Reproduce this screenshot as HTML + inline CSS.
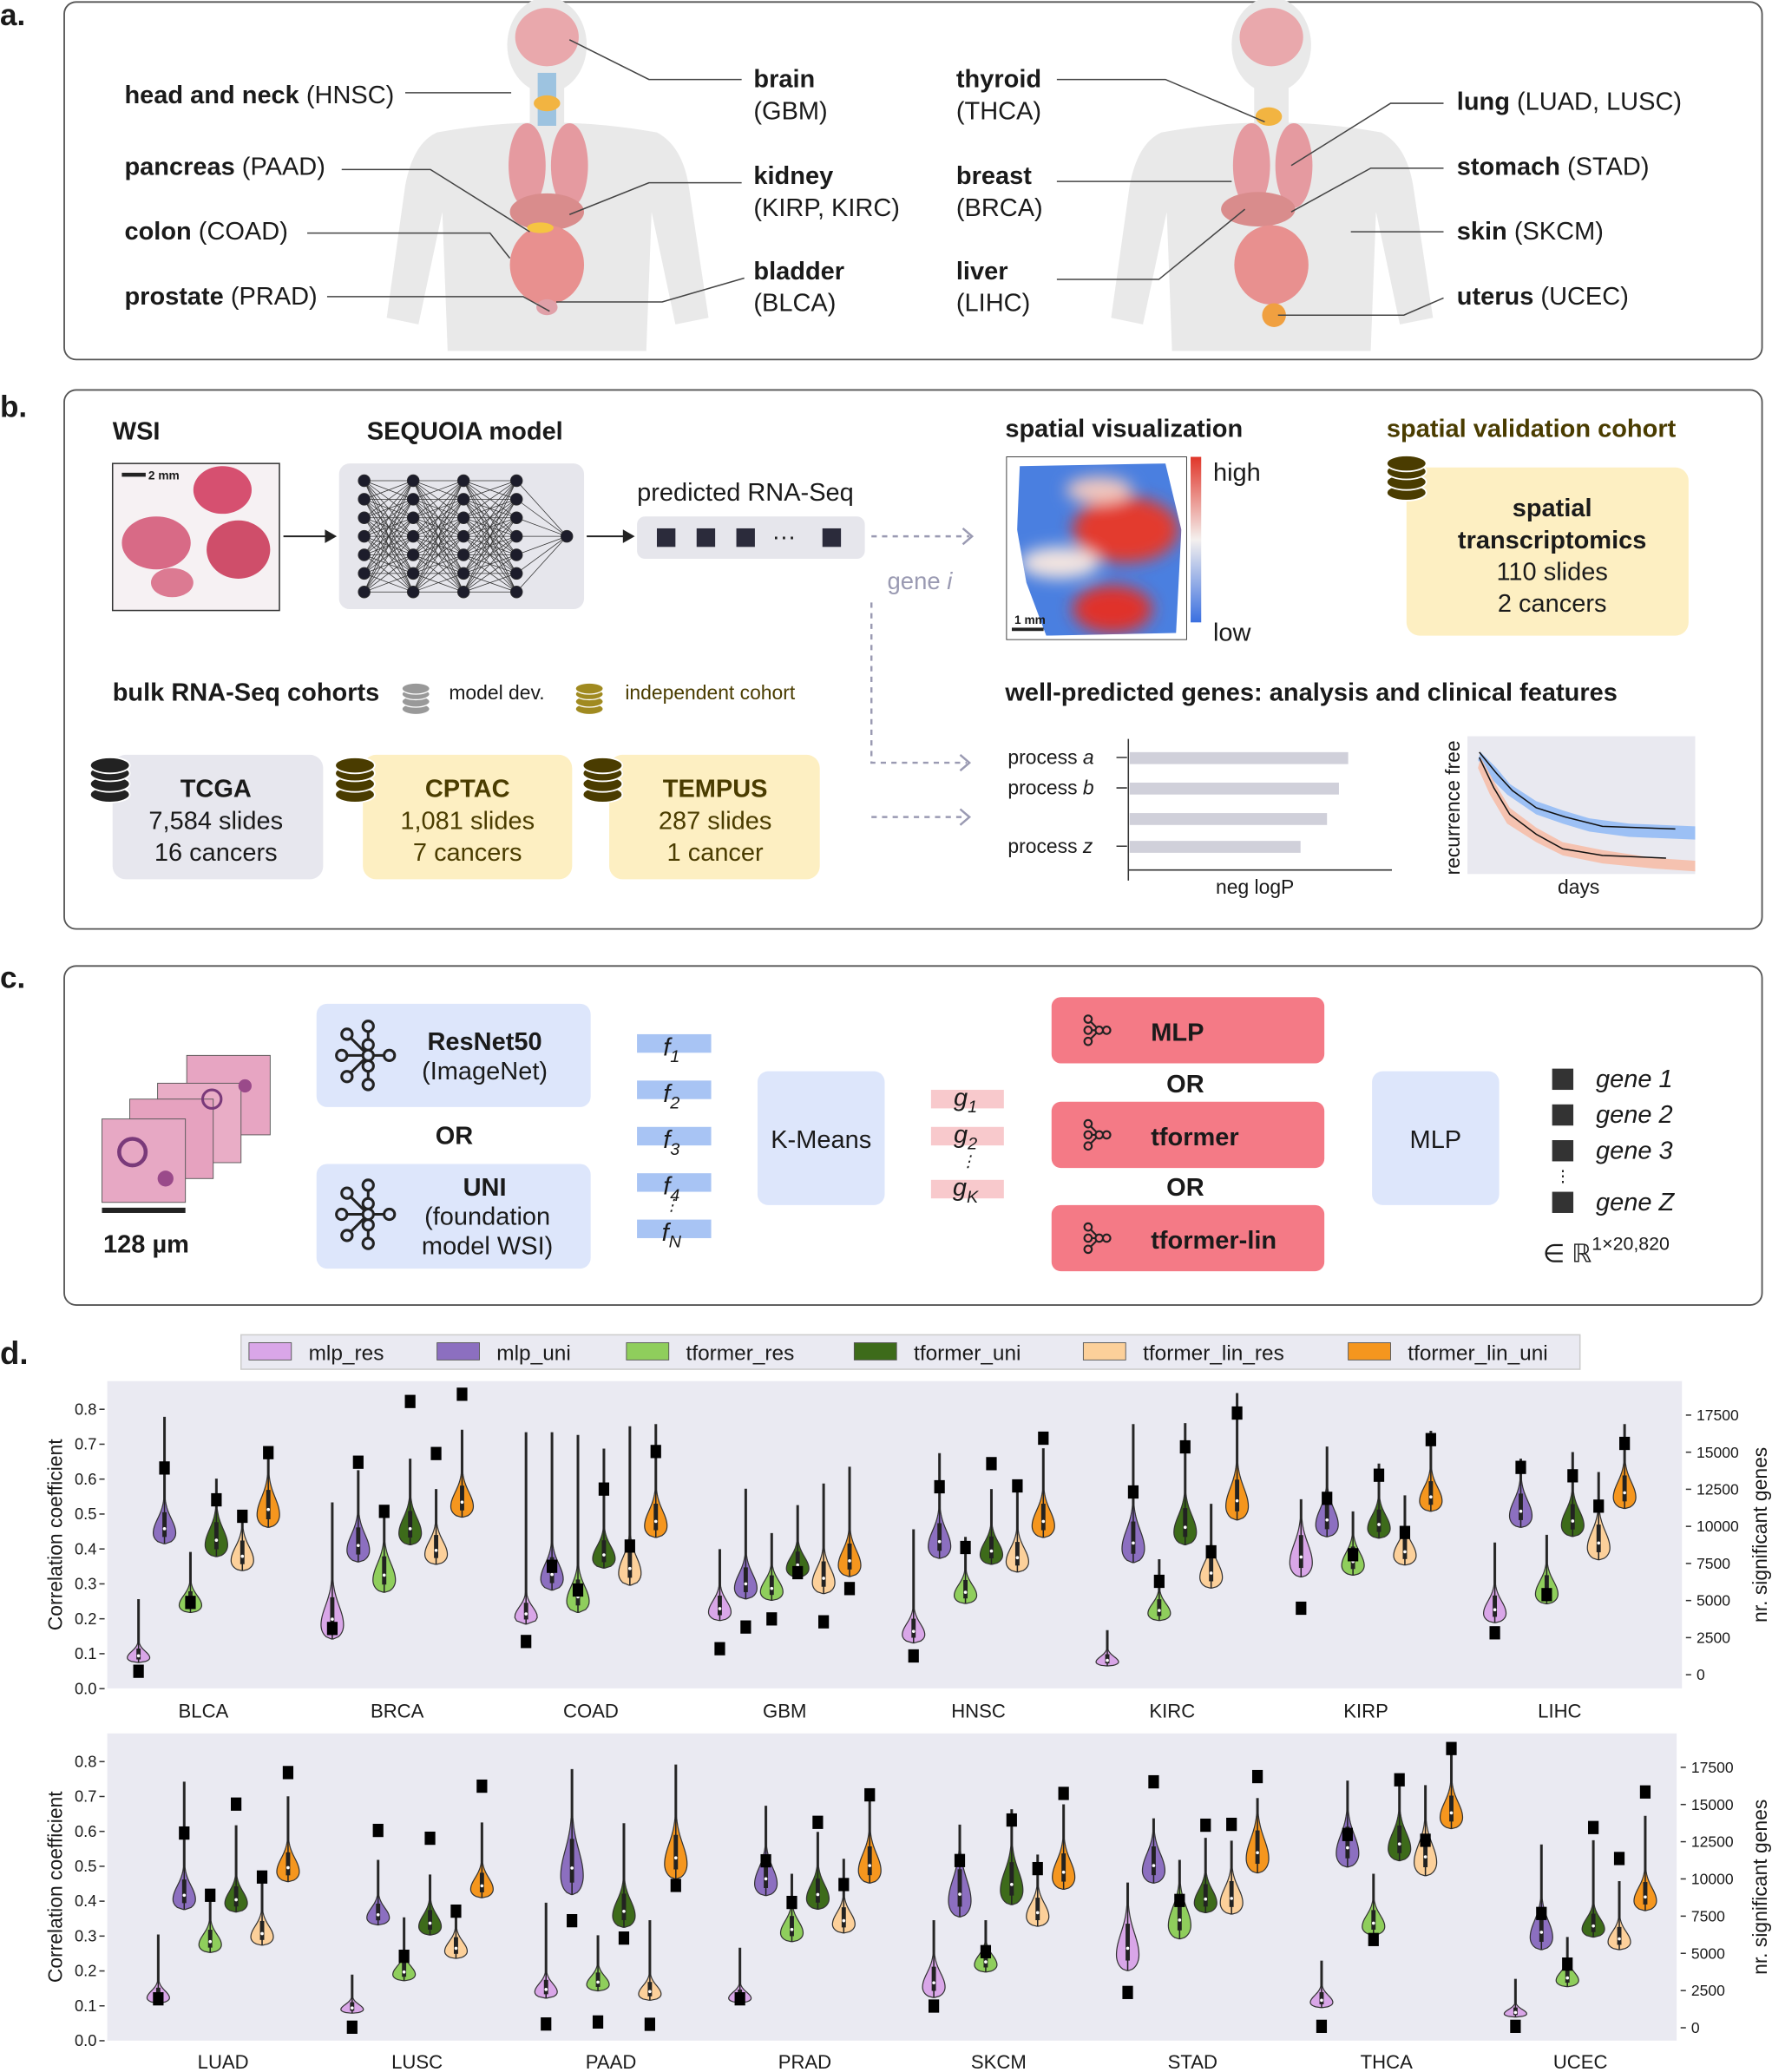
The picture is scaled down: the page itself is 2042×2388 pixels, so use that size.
<!DOCTYPE html>
<html><head><meta charset="utf-8"><style>
html,body{margin:0;padding:0;background:#fff}
svg{display:block}
text{font-family:"Liberation Sans",sans-serif;fill:#1a1a1a}
.b{font-weight:bold}
</style></head><body>
<svg id="fig" xmlns="http://www.w3.org/2000/svg" width="2042" height="2388" viewBox="0 0 1338 1564.7">
<defs>
<linearGradient id="cbar" x1="0" y1="0" x2="0" y2="1"><stop offset="0" stop-color="#e0362a"/><stop offset="0.5" stop-color="#f4f0ee"/><stop offset="1" stop-color="#3a6fe0"/></linearGradient>
<filter id="blur"><feGaussianBlur stdDeviation="6"/></filter>
<clipPath id="hmclip"><path d="M770 352 L880 350 L892 400 L888 478 L790 480 L775 440 L768 400 Z"/></clipPath>
</defs>

<!-- Panel a -->
<g>
<text x="0" y="19" font-size="23" class="b">a.</text>
<rect x="48.5" y="1.5" width="1282" height="270" rx="9" fill="none" stroke="#555" stroke-width="1.2"/>
<g fill="#e9e9e9">
<ellipse cx="413" cy="34" rx="30" ry="36"/>
<rect x="400" y="65" width="26" height="30"/>
<path d="M330 100 Q413 85 496 100 Q515 110 520 140 L535 240 L510 245 L492 160 L488 265 L338 265 L334 160 L316 245 L292 240 L306 140 Q312 108 330 100Z"/>
</g>
<g>
<ellipse cx="413" cy="28" rx="24" ry="22" fill="#e9a8ac"/>
<rect x="406" y="55" width="14" height="40" fill="#9dc3e0"/>
<ellipse cx="413" cy="78" rx="10" ry="6" fill="#f2b441"/>
<ellipse cx="398" cy="125" rx="14" ry="32" fill="#e59aa0"/>
<ellipse cx="430" cy="125" rx="14" ry="32" fill="#e59aa0"/>
<ellipse cx="413" cy="160" rx="28" ry="14" fill="#d98c8c"/>
<ellipse cx="413" cy="200" rx="28" ry="30" fill="#e8908f"/>
<ellipse cx="408" cy="172" rx="10" ry="4" fill="#f5c442"/>
<ellipse cx="413" cy="232" rx="8" ry="6" fill="#e0a0a8"/>
</g>
<g fill="#e9e9e9">
<ellipse cx="960" cy="34" rx="30" ry="36"/>
<rect x="947" y="65" width="26" height="30"/>
<path d="M877 100 Q960 85 1043 100 Q1062 110 1067 140 L1082 240 L1057 245 L1039 160 L1035 265 L885 265 L881 160 L863 245 L839 240 L853 140 Q859 108 877 100Z"/>
</g>
<g>
<ellipse cx="960" cy="28" rx="24" ry="22" fill="#e9a8ac"/>
<ellipse cx="958" cy="88" rx="10" ry="7" fill="#f2b441"/>
<ellipse cx="945" cy="125" rx="14" ry="32" fill="#e59aa0"/>
<ellipse cx="977" cy="125" rx="14" ry="32" fill="#e59aa0"/>
<ellipse cx="950" cy="158" rx="28" ry="13" fill="#d98c8c"/>
<ellipse cx="960" cy="200" rx="28" ry="30" fill="#e8908f"/>
<ellipse cx="962" cy="238" rx="9" ry="9" fill="#f0a040"/>
</g>
<g stroke="#444" stroke-width="1" fill="none">
<path d="M306 70 H386"/><path d="M258 128 H325 L400 175"/><path d="M232 176 H370 L385 195"/><path d="M247 224 H395 L415 235"/>
<path d="M560 60 H490 L430 30"/><path d="M560 138 H490 L430 162"/><path d="M562 210 L500 228 H420"/>
<path d="M798 60 H880 L955 92"/><path d="M798 137 H930"/><path d="M798 211 H875 L940 158"/>
<path d="M1090 78 H1050 L975 125"/><path d="M1090 127 H1035 L975 160"/><path d="M1090 175 H1020"/><path d="M1090 225 L1060 238 H965"/>
</g>
<g font-size="19">
<text x="94" y="78"><tspan class="b">head and neck</tspan> (HNSC)</text>
<text x="94" y="132"><tspan class="b">pancreas</tspan> (PAAD)</text>
<text x="94" y="181"><tspan class="b">colon</tspan> (COAD)</text>
<text x="94" y="230"><tspan class="b">prostate</tspan> (PRAD)</text>
<text x="569" y="66" class="b">brain</text><text x="569" y="90">(GBM)</text>
<text x="569" y="139" class="b">kidney</text><text x="569" y="163">(KIRP, KIRC)</text>
<text x="569" y="211" class="b">bladder</text><text x="569" y="235">(BLCA)</text>
<text x="722" y="66" class="b">thyroid</text><text x="722" y="90">(THCA)</text>
<text x="722" y="139" class="b">breast</text><text x="722" y="163">(BRCA)</text>
<text x="722" y="211" class="b">liver</text><text x="722" y="235">(LIHC)</text>
<text x="1100" y="83"><tspan class="b">lung</tspan> (LUAD, LUSC)</text>
<text x="1100" y="132"><tspan class="b">stomach</tspan> (STAD)</text>
<text x="1100" y="181"><tspan class="b">skin</tspan> (SKCM)</text>
<text x="1100" y="230"><tspan class="b">uterus</tspan> (UCEC)</text>
</g>
</g>

<!-- Panel b -->
<g>
<text x="0" y="315" font-size="23" class="b">b.</text>
<rect x="48.5" y="294.5" width="1282" height="407" rx="9" fill="none" stroke="#555" stroke-width="1.2"/>
<text x="85" y="332" font-size="19" class="b">WSI</text>
<text x="277" y="332" font-size="19" class="b">SEQUOIA model</text>
<g>
<rect x="85" y="350" width="126" height="111" fill="#f6f1f3" stroke="#333"/>
<ellipse cx="118" cy="410" rx="26" ry="20" fill="#d86a86"/>
<ellipse cx="168" cy="370" rx="22" ry="18" fill="#d65070"/>
<ellipse cx="180" cy="415" rx="24" ry="22" fill="#cf4e6a"/>
<ellipse cx="130" cy="440" rx="16" ry="11" fill="#dc7a92"/>
<rect x="92" y="357" width="18" height="3" fill="#222"/><text x="112" y="362" font-size="9" class="b">2 mm</text>
</g>
<g>
<rect x="256" y="350" width="185" height="110" rx="8" fill="#e6e6ec"/>
<g id="nn" stroke="#333" stroke-width="0.5"></g>
</g>
<g stroke="#222" stroke-width="1.3" fill="#222">
<path d="M214 405 H248" /><path d="M253 405 l-7 -4 v8z"/>
<path d="M443 405 H472"/><path d="M478 405 l-7 -4 v8z"/>
</g>
<text x="481" y="378" font-size="19">predicted RNA-Seq</text>
<g>
<rect x="481" y="390" width="172" height="32" rx="6" fill="#e6e6ec"/>
<rect x="496" y="399" width="14" height="14" fill="#2b2b3b"/><rect x="526" y="399" width="14" height="14" fill="#2b2b3b"/><rect x="556" y="399" width="14" height="14" fill="#2b2b3b"/>
<text x="583" y="411" font-size="18">···</text><rect x="621" y="399" width="14" height="14" fill="#2b2b3b"/>
</g>
<g stroke="#9a9ab2" stroke-width="1.6" stroke-dasharray="4 4" fill="none">
<path d="M658 405 H732"/><path d="M658 455 V576 H730"/><path d="M658 617 H730"/>
</g>
<g fill="none" stroke="#9a9ab2" stroke-width="1.6"><path d="M727 399 l7 6 l-7 6"/><path d="M725 570 l7 6 l-7 6"/><path d="M725 611 l7 6 l-7 6"/></g>
<text x="670" y="445" font-size="18" style="fill:#9a9ab2">gene <tspan font-style="italic">i</tspan></text>
<text x="759" y="330" font-size="19" class="b">spatial visualization</text>
<g>
<rect x="760" y="345" width="136" height="138" fill="#fff" stroke="#333" stroke-width="0.6"/>
<g clip-path="url(#hmclip)"><rect x="760" y="345" width="136" height="138" fill="#4a7fe0"/>
<g filter="url(#blur)"><ellipse cx="850" cy="400" rx="40" ry="25" fill="#e33a2e"/><ellipse cx="840" cy="460" rx="30" ry="18" fill="#e0302a"/><ellipse cx="800" cy="425" rx="30" ry="12" fill="#f2e4e0"/><ellipse cx="830" cy="370" rx="25" ry="10" fill="#f0c8c0"/></g></g>
<rect x="764" y="474" width="24" height="2.5" fill="#222"/><text x="766" y="471" font-size="9" class="b">1 mm</text>
</g>
<rect x="899" y="345" width="8" height="125" fill="url(#cbar)"/>
<text x="916" y="363" font-size="19">high</text>
<text x="916" y="484" font-size="19">low</text>
<text x="1047" y="330" font-size="19" class="b" style="fill:#4a3c00">spatial validation cohort</text>
<g>
<rect x="1062" y="353" width="213" height="127" rx="10" fill="#fdefc2"/>
<g text-anchor="middle" font-size="19"><text x="1172" y="390" class="b">spatial</text><text x="1172" y="414" class="b">transcriptomics</text><text x="1172" y="438">110 slides</text><text x="1172" y="462">2 cancers</text></g>
</g>
<text x="85" y="529" font-size="19" class="b">bulk RNA-Seq cohorts</text>
<text x="339" y="528" font-size="15">model dev.</text>
<text x="472" y="528" font-size="15" style="fill:#4a3c00">independent cohort</text>
<g><rect x="85" y="570" width="159" height="94" rx="10" fill="#e7e7ee"/>
<g text-anchor="middle" font-size="19"><text x="163" y="602" class="b">TCGA</text><text x="163" y="626">7,584 slides</text><text x="163" y="650">16 cancers</text></g></g>
<g><rect x="274" y="570" width="158" height="94" rx="10" fill="#fdefc2"/>
<g text-anchor="middle" font-size="19"><text x="353" y="602" class="b" style="fill:#4a3c00">CPTAC</text><text x="353" y="626" style="fill:#4a3c00">1,081 slides</text><text x="353" y="650" style="fill:#4a3c00">7 cancers</text></g></g>
<g><rect x="460" y="570" width="159" height="94" rx="10" fill="#fdefc2"/>
<g text-anchor="middle" font-size="19"><text x="540" y="602" class="b" style="fill:#4a3c00">TEMPUS</text><text x="540" y="626" style="fill:#4a3c00">287 slides</text><text x="540" y="650" style="fill:#4a3c00">1 cancer</text></g></g>
<g id="dbicons"></g>
<text x="759" y="529" font-size="19" class="b">well-predicted genes: analysis and clinical features</text>
<g>
<path d="M852 558 V665 M852 657 H1051" stroke="#333" fill="none"/>
<g fill="#d0d0da"><rect x="853" y="568" width="165" height="9"/><rect x="853" y="591" width="158" height="9"/><rect x="853" y="614" width="149" height="9"/><rect x="853" y="635" width="129" height="9"/></g>
<path d="M843 572 H851 M843 595 H851 M843 639 H851" stroke="#333"/>
<g font-size="15"><text x="761" y="577">process <tspan font-style="italic">a</tspan></text><text x="761" y="600">process <tspan font-style="italic">b</tspan></text><text x="761" y="644">process <tspan font-style="italic">z</tspan></text><text x="918" y="675">neg logP</text></g>
</g>
<g>
<rect x="1108" y="556" width="172" height="104" fill="#e9e9f0"/>
<path d="M1118 568 L1130 580 L1140 592 L1160 605 L1180 612 L1200 618 L1230 622 L1280 624 L1280 634 L1230 632 L1200 628 L1180 622 L1160 615 L1138 600 L1126 588 L1116 574Z" fill="#9cc0f5"/>
<path d="M1118 572 L1128 590 L1140 610 L1160 625 L1180 636 L1210 642 L1250 648 L1280 650 L1280 658 L1250 656 L1210 652 L1180 646 L1160 636 L1138 622 L1125 600 L1116 580Z" fill="#f5c2b0"/>
<path d="M1117 568 L1130 584 L1142 597 L1160 610 L1182 617 L1210 624 L1265 626" stroke="#111" fill="none"/>
<path d="M1117 572 L1128 595 L1140 615 L1160 630 L1180 641 L1210 646 L1258 648" stroke="#111" fill="none"/>
<text x="1102" y="610" font-size="15" transform="rotate(-90 1102 610)" text-anchor="middle">recurrence free</text>
<text x="1192" y="675" font-size="15" text-anchor="middle">days</text>
</g>
</g>

<!-- Panel c -->
<g>
<text x="0" y="746" font-size="23" class="b">c.</text>
<rect x="48.5" y="729.5" width="1282" height="256" rx="9" fill="none" stroke="#555" stroke-width="1.2"/>
<g>
<rect x="141" y="797" width="63" height="60" fill="#e7a5c2" stroke="#555" stroke-width="0.6"/>
<rect x="119" y="818" width="63" height="60" fill="#e9adc6" stroke="#555" stroke-width="0.6"/>
<rect x="98" y="830" width="63" height="60" fill="#e6a2bf" stroke="#555" stroke-width="0.6"/>
<rect x="77" y="845" width="63" height="63" fill="#e7a8c4" stroke="#555" stroke-width="0.6"/>
<circle cx="100" cy="870" r="10" fill="none" stroke="#7a3a7a" stroke-width="3"/><circle cx="125" cy="890" r="6" fill="#9a4a8a"/><circle cx="160" cy="830" r="7" fill="none" stroke="#7a3a7a" stroke-width="2"/><circle cx="185" cy="820" r="5" fill="#9a4a8a"/>
<rect x="77" y="912" width="63" height="4" fill="#222"/>
<text x="78" y="946" font-size="19" class="b">128 µm</text>
</g>
<g><rect x="239" y="758" width="207" height="78" rx="8" fill="#dde6fb"/>
<g text-anchor="middle" font-size="19"><text x="366" y="793" class="b">ResNet50</text><text x="366" y="815">(ImageNet)</text></g></g>
<text x="343" y="864" font-size="19" class="b" text-anchor="middle">OR</text>
<g><rect x="239" y="879" width="207" height="79" rx="8" fill="#dde6fb"/>
<g text-anchor="middle" font-size="19"><text x="366" y="903" class="b">UNI</text><text x="368" y="925">(foundation</text><text x="368" y="947">model WSI)</text></g></g>
<g>
<g fill="#a8c4f4"><rect x="481" y="781" width="56" height="14"/><rect x="481" y="816" width="56" height="14"/><rect x="481" y="851" width="56" height="14"/><rect x="481" y="886" width="56" height="14"/><rect x="481" y="921" width="56" height="14"/></g>
<g font-size="19" font-style="italic" text-anchor="middle"><text x="507" y="797">f<tspan font-size="13" dy="5">1</tspan></text><text x="507" y="832">f<tspan font-size="13" dy="5">2</tspan></text><text x="507" y="867">f<tspan font-size="13" dy="5">3</tspan></text><text x="507" y="902">f<tspan font-size="13" dy="5">4</tspan></text><text x="507" y="914" font-size="12">⋮</text><text x="507" y="937">f<tspan font-size="13" dy="5">N</tspan></text></g>
</g>
<g><rect x="572" y="809" width="96" height="101" rx="8" fill="#dde6fb"/><text x="620" y="867" font-size="19" text-anchor="middle">K-Means</text></g>
<g>
<g fill="#f8c9cc"><rect x="703" y="823" width="55" height="14"/><rect x="703" y="851" width="55" height="14"/><rect x="703" y="891" width="55" height="14"/></g>
<g font-size="19" font-style="italic" text-anchor="middle"><text x="729" y="835">g<tspan font-size="13" dy="5">1</tspan></text><text x="729" y="863">g<tspan font-size="13" dy="5">2</tspan></text><text x="731" y="881" font-size="12">⋮</text><text x="729" y="903">g<tspan font-size="13" dy="5">K</tspan></text></g>
</g>
<g>
<rect x="794" y="753" width="206" height="50" rx="7" fill="#f47a86"/><rect x="794" y="832" width="206" height="50" rx="7" fill="#f47a86"/><rect x="794" y="910" width="206" height="50" rx="7" fill="#f47a86"/>
<g font-size="19" class="b"><text x="869" y="786">MLP</text><text x="869" y="865">tformer</text><text x="869" y="943">tformer-lin</text><text x="895" y="825" text-anchor="middle">OR</text><text x="895" y="903" text-anchor="middle">OR</text></g>
</g>
<g><rect x="1036" y="809" width="96" height="101" rx="8" fill="#dde6fb"/><text x="1084" y="867" font-size="19" text-anchor="middle">MLP</text></g>
<g>
<g fill="#333"><rect x="1172" y="807" width="16" height="16"/><rect x="1172" y="834" width="16" height="16"/><rect x="1172" y="861" width="16" height="16"/><rect x="1172" y="900" width="16" height="16"/></g>
<g font-size="19" font-style="italic"><text x="1205" y="821">gene 1</text><text x="1205" y="848">gene 2</text><text x="1205" y="875">gene 3</text><text x="1205" y="914">gene Z</text></g>
<text x="1174" y="892" font-size="12">⋮</text>
<text x="1165" y="953" font-size="19" font-family="Liberation Serif">∈ ℝ<tspan font-size="14" dy="-9">1×20,820</tspan></text>
</g>
<g id="neticons"></g>
</g>

<!-- Panel d -->
<g>
<text x="0" y="1030" font-size="24" class="b">d.</text>
<g id="legend"><rect x="182" y="1008" width="1011" height="26" fill="#eaeaf2" stroke="#ccc"/></g>
<g id="chartTop"></g>
<g id="chartBottom"></g>
</g>
</svg>
<script>
// ---- chart data ----
const seriesNames = ["mlp_res","mlp_uni","tformer_res","tformer_uni","tformer_lin_res","tformer_lin_uni"];
const seriesColors = ["#d9a6e8","#8c6fc0","#8fce5c","#3d6b1a","#fcd09a","#f5961e"];
const leftTicks = [0.0,0.1,0.2,0.3,0.4,0.5,0.6,0.7,0.8];
const rightTicks = [0,2500,5000,7500,10000,12500,15000,17500];

const topCategories = ["BLCA","BRCA","COAD","GBM","HNSC","KIRC","KIRP","LIHC"];
const topMins = [
 [.075,.142,.185,.195,.131,.065,.32,.189],
 [.415,.363,.282,.257,.373,.361,.435,.462],
 [.218,.276,.218,.253,.244,.195,.325,.243],
 [.378,.412,.345,.319,.356,.412,.431,.436],
 [.338,.356,.296,.272,.334,.288,.354,.369],
 [.462,.491,.433,.321,.433,.483,.508,.516]];
const topMaxs = [
 [.255,.532,.733,.398,.455,.166,.541,.417],
 [.777,.624,.733,.571,.673,.756,.692,.657],
 [.39,.524,.725,.444,.433,.369,.506,.439],
 [.6,.657,.686,.524,.57,.759,.643,.676],
 [.508,.57,.75,.586,.59,.528,.552,.619],
 [.69,.74,.756,.634,.687,.845,.737,.756]];
const topMedians = [
 [.094,.199,.214,.229,.164,.081,.377,.226],
 [.458,.41,.327,.3,.421,.417,.483,.508],
 [.247,.325,.263,.287,.276,.224,.364,.282],
 [.425,.458,.383,.354,.394,.462,.47,.48],
 [.379,.396,.344,.316,.375,.331,.392,.417],
 [.513,.534,.479,.366,.479,.538,.549,.561]];
const topGenes = [
 [234,3118,2241,1754,1267,null,4483,2826],
 [13935,14325,7309,3216,12669,12318,11889,13975],
 [4873,11012,5711,3762,8576,6295,8088,5399],
 [11790,18418,12513,6880,14228,15358,13448,13409],
 [10680,14910,8673,3567,12727,8283,9589,11363],
 [14968,18905,15046,5808,15943,17638,15846,15592]];

const bottomCategories = ["LUAD","LUSC","PAAD","PRAD","SKCM","STAD","THCA","UCEC"];
const bottomMins = [
 [.108,.079,.122,.109,.124,.201,.095,.068],
 [.376,.332,.419,.416,.355,.452,.498,.261],
 [.253,.172,.143,.284,.197,.292,.303,.155],
 [.369,.303,.325,.377,.39,.367,.516,.297],
 [.274,.236,.116,.309,.328,.363,.473,.261],
 [.456,.41,.464,.452,.434,.481,.608,.373]];
const bottomMaxs = [
 [.303,.188,.394,.265,.344,.452,.228,.176],
 [.741,.517,.777,.672,.618,.636,.744,.561],
 [.431,.352,.301,.477,.344,.517,.477,.296],
 [.616,.475,.622,.597,.662,.58,.76,.573],
 [.47,.387,.344,.52,.532,.572,.731,.456],
 [.699,.624,.79,.722,.676,.694,.821,.643]];
const bottomMedians = [
 [.129,.094,.147,.127,.166,.265,.116,.081],
 [.417,.361,.495,.464,.42,.502,.553,.311],
 [.284,.197,.168,.319,.226,.346,.337,.18],
 [.404,.337,.371,.419,.448,.406,.564,.329],
 [.307,.265,.141,.344,.367,.408,.527,.292],
 [.496,.444,.524,.502,.483,.539,.653,.412]];
const bottomGenes = [
 [1944,39,253,1944,1458,2372,97,97],
 [13083,13258,7193,11217,11236,16524,12986,7679],
 [8904,4802,389,8418,5113,8554,5929,4277],
 [15027,12733,6026,13802,13958,13608,16660,13452],
 [10128,7834,233,9623,10692,13666,12597,11372],
 [17146,16232,9564,15649,15746,16874,18760,15843]];

const NS = "http://www.w3.org/2000/svg";
function mk(tag, attrs, parent){const e=document.createElementNS(NS,tag);for(const k in attrs)e.setAttribute(k,attrs[k]);if(parent)parent.appendChild(e);return e;}

// legend
const legend = document.getElementById('legend');
const legendX = [188,330,473,645,818,1018];
seriesNames.forEach((n,i)=>{
  const g = mk('g',{},legend);
  
  
  mk('rect',{x:legendX[i],y:1014,width:32,height:13,fill:seriesColors[i],stroke:'#555','stroke-width':0.6},g);
  const t = mk('text',{x:legendX[i]+45,y:1027,'font-size':16},g); t.textContent=n;
});

function drawPanel(gid, cfg){
  const root = document.getElementById(gid);
  const yL = v => cfg.y0 - v*cfg.kL;
  const yR = v => cfg.yR0 - v*cfg.kR;
  const xC = (ci, si) => cfg.c0 + ci*cfg.step + (si-2.5)*19.6;
  const bg = mk('rect',{x:cfg.x0,y:cfg.top,width:cfg.x1-cfg.x0,height:cfg.bot-cfg.top,fill:'#eaeaf2'},root);
  
  
  leftTicks.forEach(v=>{
    const y=yL(v);
    mk('line',{x1:cfg.x0-6,x2:cfg.x0-2,y1:y,y2:y,stroke:'#333','stroke-width':1},root);
    const t=mk('text',{x:cfg.x0-8,y:y+4,'font-size':12,'text-anchor':'end'},root);
    
    
    t.textContent=v.toFixed(1);
  });
  rightTicks.forEach(v=>{
    const y=yR(v);
    mk('line',{x1:cfg.x1+3,x2:cfg.x1+7,y1:y,y2:y,stroke:'#333','stroke-width':1},root);
    const t=mk('text',{x:cfg.x1+11,y:y+4,'font-size':11.5},root);
    
    
    t.textContent=v;
  });
  const ly=(cfg.top+cfg.bot)/2;
  const yt=mk('text',{x:47,y:ly,'font-size':15,'text-anchor':'middle',transform:`rotate(-90 47 ${ly})`},root);
  
  
  yt.textContent='Correlation coefficient';
  const rx=1334;
  const rt=mk('text',{x:rx,y:ly,'font-size':15,'text-anchor':'middle',transform:`rotate(-90 ${rx} ${ly})`},root);
  
  
  rt.textContent='nr. significant genes';
  cfg.cats.forEach((c,ci)=>{
    const t=mk('text',{x:cfg.c0+ci*cfg.step,y:cfg.labelY,'font-size':14.5,'text-anchor':'middle'},root);
    
    
    t.textContent=c;
  });
  for(let si=0;si<6;si++){
    for(let ci=0;ci<cfg.cats.length;ci++){
      const b=cfg.mins[si][ci], tp=cfg.maxs[si][ci], m=cfg.meds[si][ci];
      const x=xC(ci,si);
      const W=8.5, pk=b+(m-b)*0.7, L=Math.max((m-b)*1.3,0.015);
      const right=[], left=[];
      const N=60;
      for(let k=0;k<=N;k++){
        const v=b+(tp-b)*k/N;
        let w;
        if(v<pk){const r=(pk-v)/Math.max(pk-b,1e-4);w=W*Math.sqrt(Math.max(0,1-r*r));}
        else{const r=(v-pk)/L;w=W*Math.exp(-r*r*0.9);}
        w=Math.max(w,0.6);
        right.push(`${(x+w).toFixed(2)},${yL(v).toFixed(2)}`);
        left.unshift(`${(x-w).toFixed(2)},${yL(v).toFixed(2)}`);
      }
      const vg=mk('g',{},root);
      
      
      mk('path',{d:'M'+right.join(' L')+' L'+left.join(' L')+'Z',fill:seriesColors[si],stroke:'#333','stroke-width':0.8},vg);
      mk('line',{x1:x,x2:x,y1:yL(b),y2:yL(tp),stroke:'#222','stroke-width':1},vg);
      const q1=b+(m-b)*0.45, q3=Math.min(m+(m-b)*1.1,tp);
      mk('rect',{x:x-1.6,y:yL(q3),width:3.2,height:yL(q1)-yL(q3),fill:'#222'},vg);
      mk('circle',{cx:x,cy:yL(m),r:1.2,fill:'#fff'},vg);
      const gv=cfg.genes[si][ci];
      if(gv!==null){
        const sq=mk('rect',{x:x-4,y:yR(gv)-5,width:8,height:10,fill:'#000'},root);
        
        
      }
    }
  }
}
drawPanel('chartTop',{cats:topCategories,mins:topMins,maxs:topMaxs,meds:topMedians,genes:topGenes,
  y0:1275.2,kL:263.7,yR0:1264.7,kR:28.01/2500,x0:81,x1:1270,top:1043,bot:1275,c0:153.6,step:146.3,labelY:1297});
drawPanel('chartBottom',{cats:bottomCategories,mins:bottomMins,maxs:bottomMaxs,meds:bottomMedians,genes:bottomGenes,
  y0:1541.1,kL:263.5,yR0:1531.3,kR:28.1/2500,x0:81,x1:1266,top:1309,bot:1541,c0:168.5,step:146.4,labelY:1562});

// NN diagram
const nn=document.getElementById('nn');
const cols=[275,312,350,390,428]; const cnt=[7,7,7,7,1];
const pts=cols.map((cx,i)=>{const n=cnt[i];const a=[];for(let k=0;k<n;k++)a.push([cx,405+(k-(n-1)/2)*14]);return a;});
for(let i=0;i<4;i++)pts[i].forEach(p=>pts[i+1].forEach(q=>mk('line',{x1:p[0],y1:p[1],x2:q[0],y2:q[1]},nn)));
pts.forEach(a=>a.forEach(p=>mk('circle',{cx:p[0],cy:p[1],r:4.5,fill:'#1d1d2b'},nn)));

// database icons
const db=document.getElementById('dbicons');
[[83,578,'#222'],[268,578,'#4a3c00'],[455,578,'#4a3c00'],[1062,350,'#4a3c00'],[314,520,'#999',0.7],[445,520,'#a08a20',0.7]].forEach(d=>{
  const s=d[3]||1, g=mk('g',{transform:`translate(${d[0]} ${d[1]}) scale(${s})`},db);
  for(let k=2;k>=0;k--){mk('ellipse',{cx:0,cy:k*8+6,rx:15,ry:6,fill:d[2],stroke:'#fff','stroke-width':1.2},g);}
  mk('ellipse',{cx:0,cy:0,rx:15,ry:6,fill:d[2],stroke:'#fff','stroke-width':1.2},g);
});
// network icons
const ni=document.getElementById('neticons');
[[278,797],[278,917],[830,778],[830,857],[830,935]].forEach((p,i)=>{
  const sc=i<2?1:0.7, g=mk('g',{transform:`translate(${p[0]} ${p[1]}) scale(${sc})`,stroke:'#222','stroke-width':2,fill:'none'},ni);
  const nodes=i<2?[[-16,-16],[-20,0],[-16,16],[0,-8],[0,8],[16,0],[0,-22],[0,22]]:[[-12,-12],[-12,0],[-12,12],[8,0]];
  nodes.forEach(n=>mk('line',{x1:0,y1:0,x2:n[0],y2:n[1]},g));
  nodes.forEach(n=>mk('circle',{cx:n[0],cy:n[1],r:4,fill:i<2?'#dde6fb':'#f47a86'},g));
  mk('circle',{cx:0,cy:0,r:4,fill:i<2?'#dde6fb':'#f47a86'},g);
});
</script>
</body></html>
